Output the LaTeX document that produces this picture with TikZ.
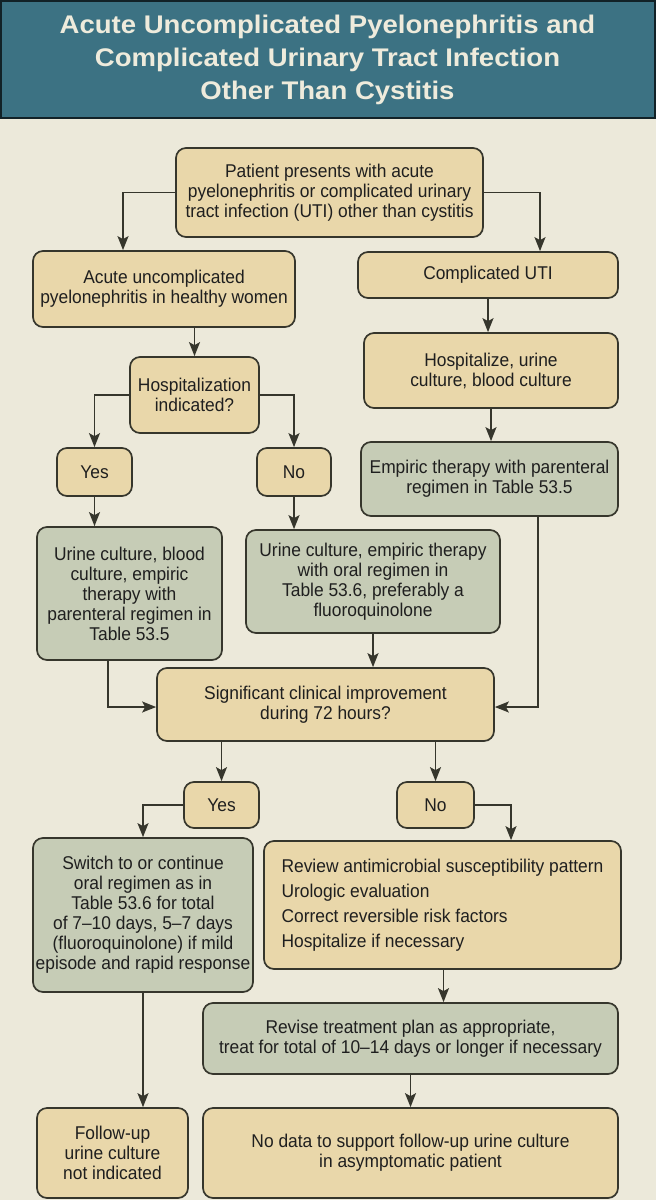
\documentclass[tikz,border=0pt]{standalone}
\usepackage{fontspec}
\setmainfont{Liberation Sans}[FakeStretch=0.94]
\newfontfamily\titlefont{Liberation Sans}[FakeStretch=1.08]
\usetikzlibrary{arrows.meta,calc}
\definecolor{bgc}{HTML}{ECE9DA}
\definecolor{tanc}{HTML}{E9D7AA}
\definecolor{grnc}{HTML}{C6CCB6}
\definecolor{edgec}{HTML}{36362C}
\definecolor{titlec}{HTML}{3C7283}
\definecolor{titletext}{HTML}{EEEBDC}
\tikzset{
  box/.style={draw=edgec, line width=1.7pt, rounded corners=10pt, align=center,
    inner sep=0pt, font=\fontsize{18.5}{20}\selectfont, text=black!88},
  tanbox/.style={box, fill=tanc},
  grnbox/.style={box, fill=grnc},
  arr/.style={draw=edgec, line width=1.7pt, -{Stealth[length=14pt,width=11pt,inset=3pt]}},
  ln/.style={draw=edgec, line width=1.7pt}
}
\begin{document}
\begin{tikzpicture}[x=1pt,y=-1pt]
\fill[bgc] (0,0) rectangle (656,1200);
\useasboundingbox (0,0) rectangle (656,1200);
% title
\node[draw=black!70!titlec, line width=1.2pt, fill=titlec, minimum width=654pt, minimum height=117pt, inner sep=0pt] (titlebar) at (328,59.5) {};
\node[text=titletext, font=\titlefont\bfseries\fontsize{25.5}{33}\selectfont, align=center] (title) at (327.5,60) {Acute Uncomplicated Pyelonephritis and\\Complicated Urinary Tract Infection\\Other Than Cystitis};

\node[tanbox, minimum width=307pt, minimum height=89pt] (b1) at (329.5,192.5) {Patient presents with acute\\pyelonephritis or complicated urinary\\tract infection (UTI) other than cystitis};
\node[tanbox, minimum width=262pt, minimum height=76pt] (b2) at (164,289) {Acute uncomplicated\\pyelonephritis in healthy women};
\node[tanbox, minimum width=260pt, minimum height=46pt] (b3) at (488,275) {Complicated UTI};
\node[tanbox, minimum width=129pt, minimum height=76pt] (hosp) at (194.5,395) {Hospitalization\\indicated?};
\node[tanbox, minimum width=75pt, minimum height=48pt] (yes1) at (94.5,472) {Yes};
\node[tanbox, minimum width=74pt, minimum height=48pt] (no1) at (294,472) {No};
\node[tanbox, minimum width=254pt, minimum height=75pt] (hospR) at (491,370.5) {Hospitalize, urine\\culture, blood culture};
\node[grnbox, minimum width=257pt, minimum height=74pt] (emp) at (489.5,479) {Empiric therapy with parenteral\\regimen in Table 53.5};
\node[grnbox, minimum width=185pt, minimum height=133pt] (b9) at (129.5,593.5) {Urine culture, blood\\culture, empiric\\therapy with\\parenteral regimen in\\Table 53.5};
\node[grnbox, minimum width=254pt, minimum height=103pt] (b10) at (373,581.5) {Urine culture, empiric therapy\\with oral regimen in\\Table 53.6, preferably a\\fluoroquinolone};
\node[tanbox, minimum width=337pt, minimum height=73pt] (b11) at (325.5,704.5) {Significant clinical improvement\\during 72 hours?};
\node[tanbox, minimum width=75pt, minimum height=46pt] (yes2) at (221.5,805) {Yes};
\node[tanbox, minimum width=77pt, minimum height=46pt] (no2) at (435.5,805) {No};
\node[grnbox, minimum width=220pt, minimum height=154pt] (b12) at (143,915) {Switch to or continue\\oral regimen as in\\Table 53.6 for total\\of 7--10 days, 5--7 days\\(fluoroquinolone) if mild\\episode and rapid response};
\node[tanbox, minimum width=357pt, minimum height=128pt, align=left, font=\fontsize{18.5}{25}\selectfont] (b13) at (442.5,905) {Review antimicrobial susceptibility pattern\\Urologic evaluation\\Correct reversible risk factors\\Hospitalize if necessary};
\node[grnbox, minimum width=415pt, minimum height=71pt] (b14) at (410.5,1038.5) {Revise treatment plan as appropriate,\\treat for total of 10--14 days or longer if necessary};
\node[tanbox, minimum width=151pt, minimum height=90pt] (b15) at (112.5,1153) {Follow-up\\urine culture\\not indicated};
\node[tanbox, minimum width=415pt, minimum height=90pt] (b16) at (410.5,1153) {No data to support follow-up urine culture\\in asymptomatic patient};

% connectors
\draw[arr] (b1.west) -| ([xshift=-41pt]b2.north);
\draw[arr] (b1.east) -| ([xshift=52pt]b3.north);
\draw[arr] (hosp.north |- b2.south) -- (hosp.north);
\draw[arr] (hosp.west) -| (yes1.north);
\draw[arr] (hosp.east) -| (no1.north);
\draw[arr] (yes1.south) -- (yes1.south |- b9.north);
\draw[arr] (no1.south) -- (no1.south |- b10.north);
\draw[arr] (b3.south) -- (b3.south |- hospR.north);
\draw[arr] (hospR.south) -- (hospR.south |- emp.north);
\draw[arr] ([xshift=48.5pt]emp.south) |- ([yshift=-2.5pt]b11.east);
\draw[arr] ([xshift=-21.5pt]b9.south) |- ([yshift=-2.5pt]b11.west);
\draw[arr] (b10.south) -- (b10.south |- b11.north);
\draw[arr] (yes2.north |- b11.south) -- (yes2.north);
\draw[arr] (no2.north |- b11.south) -- (no2.north);
\draw[arr] (yes2.west) -| (b12.north);
\draw[arr] (no2.east) -| ([xshift=68.5pt]b13.north);
\draw[arr] ([xshift=1pt]b13.south) -- ([xshift=1pt]b13.south |- b14.north);
\draw[arr] (b14.south) -- (b14.south |- b16.north);
\draw[arr] (b12.south) -- (b12.south |- b15.north);
\end{tikzpicture}
\end{document}
